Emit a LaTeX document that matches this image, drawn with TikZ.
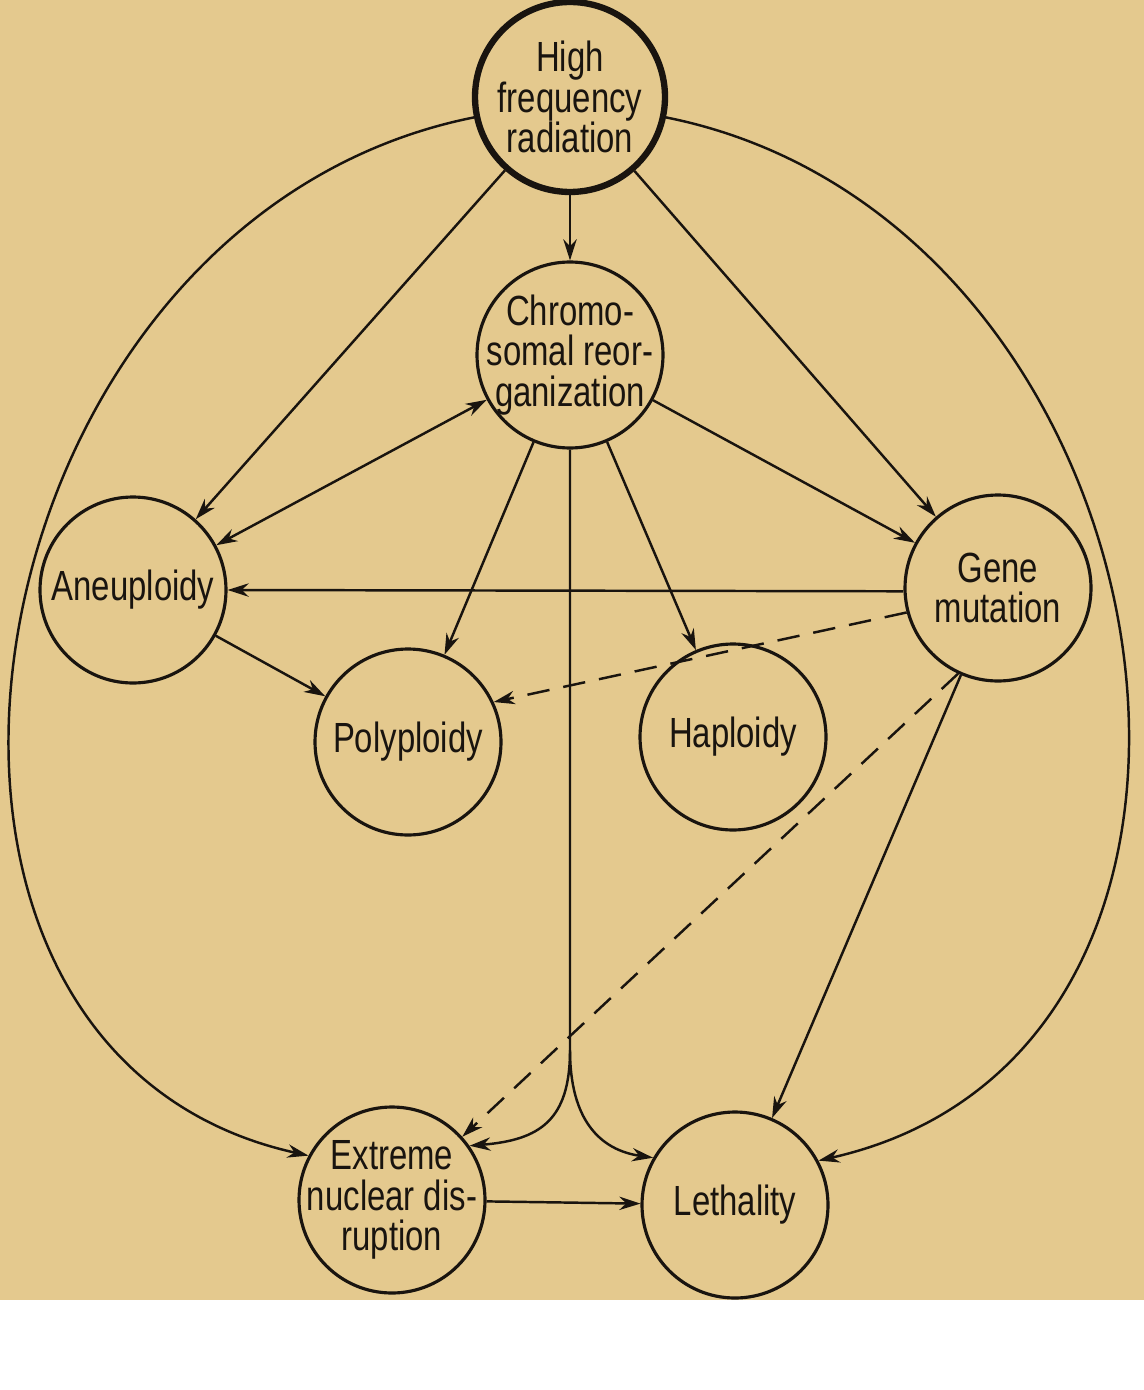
\documentclass[tikz,border=0pt]{standalone}
\usepackage{fontspec}
\setmainfont{Liberation Sans}[FakeStretch=0.78]
\usetikzlibrary{arrows.meta}
\definecolor{paper}{RGB}{228,201,142}
\definecolor{ink}{RGB}{25,20,15}
\begin{document}
\begin{tikzpicture}[x=0.05cm,y=-0.05cm,
  circ/.style={circle,draw=ink,line width=4.5pt,minimum size=9.3cm,inner sep=0pt,
    label={[align=center,font=\fontsize{60}{58}\selectfont,text=ink]center:#1}},
  con/.style={draw=ink,line width=3.5pt,-{Stealth[length=30pt,width=19pt]}},
  dsh/.style={con,dash pattern=on 32pt off 20pt}]
\useasboundingbox (0,0) rectangle (1144,1390);
\fill[white] (0,0) rectangle (1144,1390);
\fill[paper] (0,0) rectangle (1144,1300);
\node[circ={High\\frequency\\radiation},line width=9pt,minimum size=9.5cm] (hfr) at (570,97) {};
\node[circ={Chromo-\\somal reor-\\ganization}] (chr) at (570,355) {};
\node[circ={Aneuploidy}] (ane) at (133,590) {};
\node[circ={Gene\\mutation}] (gen) at (998,588) {};
\node[circ={Polyploidy}] (pol) at (408,742) {};
\node[circ={Haploidy}] (hap) at (733,737) {};
\node[circ={Extreme\\nuclear dis-\\ruption}] (ext) at (392,1200) {};
\node[circ={Lethality}] (let) at (735,1205) {};
\coordinate (split) at (570,1050);
\draw[con] (hfr) -- (chr);
\draw[con] (hfr) -- (ane);
\draw[con] (hfr) -- (gen);
\draw[con] (hfr.192) .. controls (-40,220) and (-170,1050) .. (ext.152);
\draw[con] (hfr.-12) .. controls (1180,220) and (1310,1050) .. (let.28);
\draw[con,{Stealth[length=30pt,width=19pt]}-{Stealth[length=30pt,width=19pt]}] (ane) -- (chr);
\draw[con] (chr) -- (gen);
\draw[con] (chr) -- (pol);
\draw[con] (chr) -- (hap);
\draw[con] (chr.south) -- (split) .. controls (570,1120) and (540,1140) .. (ext.35);
\draw[con] (split) .. controls (570,1120) and (600,1150) .. (let.150);
\draw[con] (gen.182) -- (ane.east);
\draw[dsh] (gen.195) -- (pol.25);
\draw[dsh] (gen.245) -- (ext.42);
\draw[con] (gen) -- (let);
\draw[con] (ane) -- (pol);
\draw[con] (ext) -- (let);
\end{tikzpicture}
\end{document}
